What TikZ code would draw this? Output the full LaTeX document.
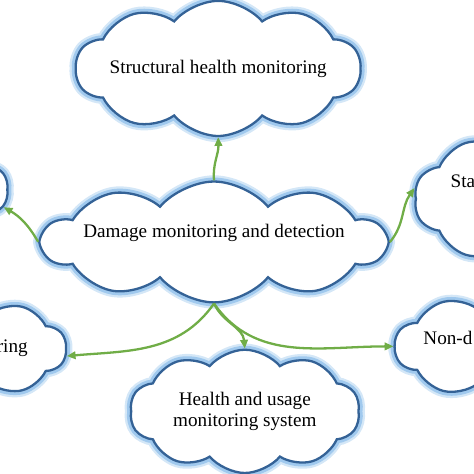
\documentclass[tikz,border=0pt]{standalone}
\usepackage{fontspec}
\setmainfont{Liberation Serif}
\usetikzlibrary{shapes.symbols,positioning,arrows.meta}
\definecolor{bordeazul}{RGB}{52,98,150}
\definecolor{brillo}{RGB}{160,201,238}
\definecolor{verde}{RGB}{112,173,71}
\tikzset{
	nube/.style={cloud, cloud puffs=10, cloud puff arc=100, cloud ignores aspect,
		draw=bordeazul, line width=1.1pt, fill=white,
		preaction={draw=brillo!45, line width=6pt},
		preaction={draw=brillo, line width=3.8pt},
		font=\fontsize{9.2}{10}\selectfont, align=center, inner sep=0pt},
	rotulo/.style={font=\fontsize{9.2}{10}\selectfont, inner sep=0pt},
	flecha/.style={draw=verde, line width=1.1pt, -{Triangle[length=4.2pt,width=3.6pt]}}
}

\begin{document}
\begin{tikzpicture}[node distance=0.5cm]
			\useasboundingbox (0,0) rectangle (8,8);
			\clip (0,0) rectangle (8,8);
			
			\node[nube, minimum width=5.79cm, minimum height=2.04cm, inner xsep=-0.35cm, text depth=0.39cm] (dmd) at (3.612,3.916) {Damage monitoring and detection};
			
			\node[nube, minimum width=4.81cm, minimum height=2.28cm, inner xsep=-0.35cm, above=0.73cm of dmd, xshift=0.07cm] (shm) {Structural health monitoring};
			\node[nube, minimum width=3.88cm, minimum height=2.08cm, below=0.76cm of dmd, xshift=0.52cm] (hums) {Health and usage\\monitoring system};
			
			\node[nube, minimum width=3.5cm, minimum height=1.8cm, left=0.5cm of dmd, yshift=0.88cm] (tl) {};
			\node[nube, minimum width=4.2cm, minimum height=2.33cm, right=0.42cm of dmd, yshift=0.73cm,
				label={[rotulo, anchor=west, xshift=0.6cm, yshift=0.29cm]west:Sta}] (tr) {};
			\node[nube, minimum width=3.6cm, minimum height=1.74cm, left=1.06cm of hums, yshift=1.06cm,
				label={[rotulo, anchor=east, xshift=-0.66cm]east:ring}] (bl) {};
			\node[nube, minimum width=4cm, minimum height=1.86cm, right=0.06cm of dmd, yshift=-1.76cm,
				label={[rotulo, anchor=west, xshift=0.5cm, yshift=0.14cm]west:Non-d}] (br) {};
			
			% conectores
			\draw[flecha] (dmd.north) to[out=95,in=-88] (shm.south);
			\draw[flecha] (dmd.west) to[out=120,in=-30] (tl.-10);
			\draw[flecha] (dmd.east) to[out=50,in=-125] (tr.175);
			\draw[flecha] (dmd.south) to[out=-125,in=5] (bl.-4);
			\draw[flecha] (dmd.south) to[out=-65,in=95] (hums.north);
			\draw[flecha] (dmd.south) to[out=-55,in=180] (br.west);
		\end{tikzpicture}
\end{document}
